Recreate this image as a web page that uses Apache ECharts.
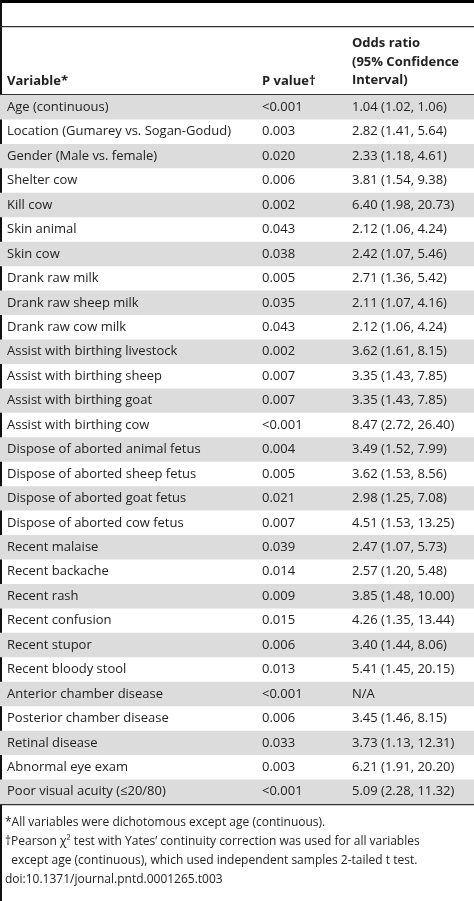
<!DOCTYPE html>
<html><head><meta charset="utf-8">
<script src="https://cdn.jsdelivr.net/npm/echarts@6/dist/echarts.min.js"></script>
<style>html,body{margin:0;padding:0;background:#fff}#c{width:474px;height:901px}</style>
</head><body><div id="c"></div>
<script>
const variables = ["Age (continuous)","Location (Gumarey vs. Sogan-Godud)","Gender (Male vs. female)","Shelter cow","Kill cow","Skin animal","Skin cow","Drank raw milk","Drank raw sheep milk","Drank raw cow milk","Assist with birthing livestock","Assist with birthing sheep","Assist with birthing goat","Assist with birthing cow","Dispose of aborted animal fetus","Dispose of aborted sheep fetus","Dispose of aborted goat fetus","Dispose of aborted cow fetus","Recent malaise","Recent backache","Recent rash","Recent confusion","Recent stupor","Recent bloody stool","Anterior chamber disease","Posterior chamber disease","Retinal disease","Abnormal eye exam","Poor visual acuity (\u226420/80)"];
const pValues = ["<0.001","0.003","0.020","0.006","0.002","0.043","0.038","0.005","0.035","0.043","0.002","0.007","0.007","<0.001","0.004","0.005","0.021","0.007","0.039","0.014","0.009","0.015","0.006","0.013","<0.001","0.006","0.033","0.003","<0.001"];
const oddsRatios = ["1.04 (1.02, 1.06)","2.82 (1.41, 5.64)","2.33 (1.18, 4.61)","3.81 (1.54, 9.38)","6.40 (1.98, 20.73)","2.12 (1.06, 4.24)","2.42 (1.07, 5.46)","2.71 (1.36, 5.42)","2.11 (1.07, 4.16)","2.12 (1.06, 4.24)","3.62 (1.61, 8.15)","3.35 (1.43, 7.85)","3.35 (1.43, 7.85)","8.47 (2.72, 26.40)","3.49 (1.52, 7.99)","3.62 (1.53, 8.56)","2.98 (1.25, 7.08)","4.51 (1.53, 13.25)","2.47 (1.07, 5.73)","2.57 (1.20, 5.48)","3.85 (1.48, 10.00)","4.26 (1.35, 13.44)","3.40 (1.44, 8.06)","5.41 (1.45, 20.15)","N/A","3.45 (1.46, 8.15)","3.73 (1.13, 12.31)","6.21 (1.91, 20.20)","5.09 (2.28, 11.32)"];
const headers = ["Variable*","P value\u2020","Odds ratio\n(95% Confidence\nInterval)"];
const footnotes = ["*All variables were dichotomous except age (continuous).","\u2020Pearson \u03c7\u00b2 test with Yates\u2019 continuity correction was used for all variables","  except age (continuous), which used independent samples 2-tailed t test.","doi:10.1371/journal.pntd.0001265.t003"];

const FONT = '"Open Sans","Noto Sans",sans-serif';
const colX = [7, 262, 352];
const rowIdx = variables.map((v,i)=>i);
const tableTop = 95, tableBottom = 804;
const chart = echarts.init(document.getElementById('c'));
const g = [
  {type:'rect',shape:{x:0,y:0,width:474,height:3},style:{fill:'#000'}},
  {type:'rect',shape:{x:0,y:0,width:2,height:901},style:{fill:'#111'}},
  {type:'rect',shape:{x:0,y:26,width:474,height:1.2},style:{fill:'#333'}},
  {type:'rect',shape:{x:0,y:tableTop-1,width:474,height:1.2},style:{fill:'#333'}},
  {type:'rect',shape:{x:0,y:tableBottom,width:474,height:1.2},style:{fill:'#333'}},
  {type:'text',x:colX[0],y:81,style:{text:headers[0],font:'bold 13px '+FONT,fill:'#222',verticalAlign:'middle'}},
  {type:'text',x:colX[1],y:81,style:{text:headers[1],font:'bold 13px '+FONT,fill:'#222',verticalAlign:'middle'}},
  {type:'text',x:colX[2],y:62,style:{text:headers[2],font:'bold 13px '+FONT,fill:'#222',verticalAlign:'middle',lineHeight:18.5}}
];
footnotes.forEach((f,i)=>g.push({type:'text',x:5,y:823+i*19,style:{text:f,font:'12px '+FONT,fill:'#222',verticalAlign:'middle'}}));
chart.setOption({
  animation:false,
  grid:{left:0,right:0,top:tableTop,bottom:901-tableBottom},
  xAxis:{type:'value',min:0,max:474,show:false},
  yAxis:{type:'category',data:rowIdx,inverse:true,show:false},
  series:[{type:'custom',data:rowIdx.map(i=>[0,i]),
    renderItem:function(params,api){
      const i=api.value(1);
      const c=api.coord([0,i]);
      const h=api.size([0,1])[1];
      const ch=[];
      if(i%2===0) ch.push({type:'rect',shape:{x:0,y:c[1]-h/2,width:474,height:h},style:{fill:'#dcdcdc'}});
      const t=[variables[i],pValues[i],oddsRatios[i]];
      t.forEach((s,k)=>ch.push({type:'text',x:colX[k],y:c[1],style:{text:s,font:'13px '+FONT,fill:'#222',verticalAlign:'middle'}}));
      return {type:'group',children:ch};
    }}],
  graphic:g
});
</script></body></html>
